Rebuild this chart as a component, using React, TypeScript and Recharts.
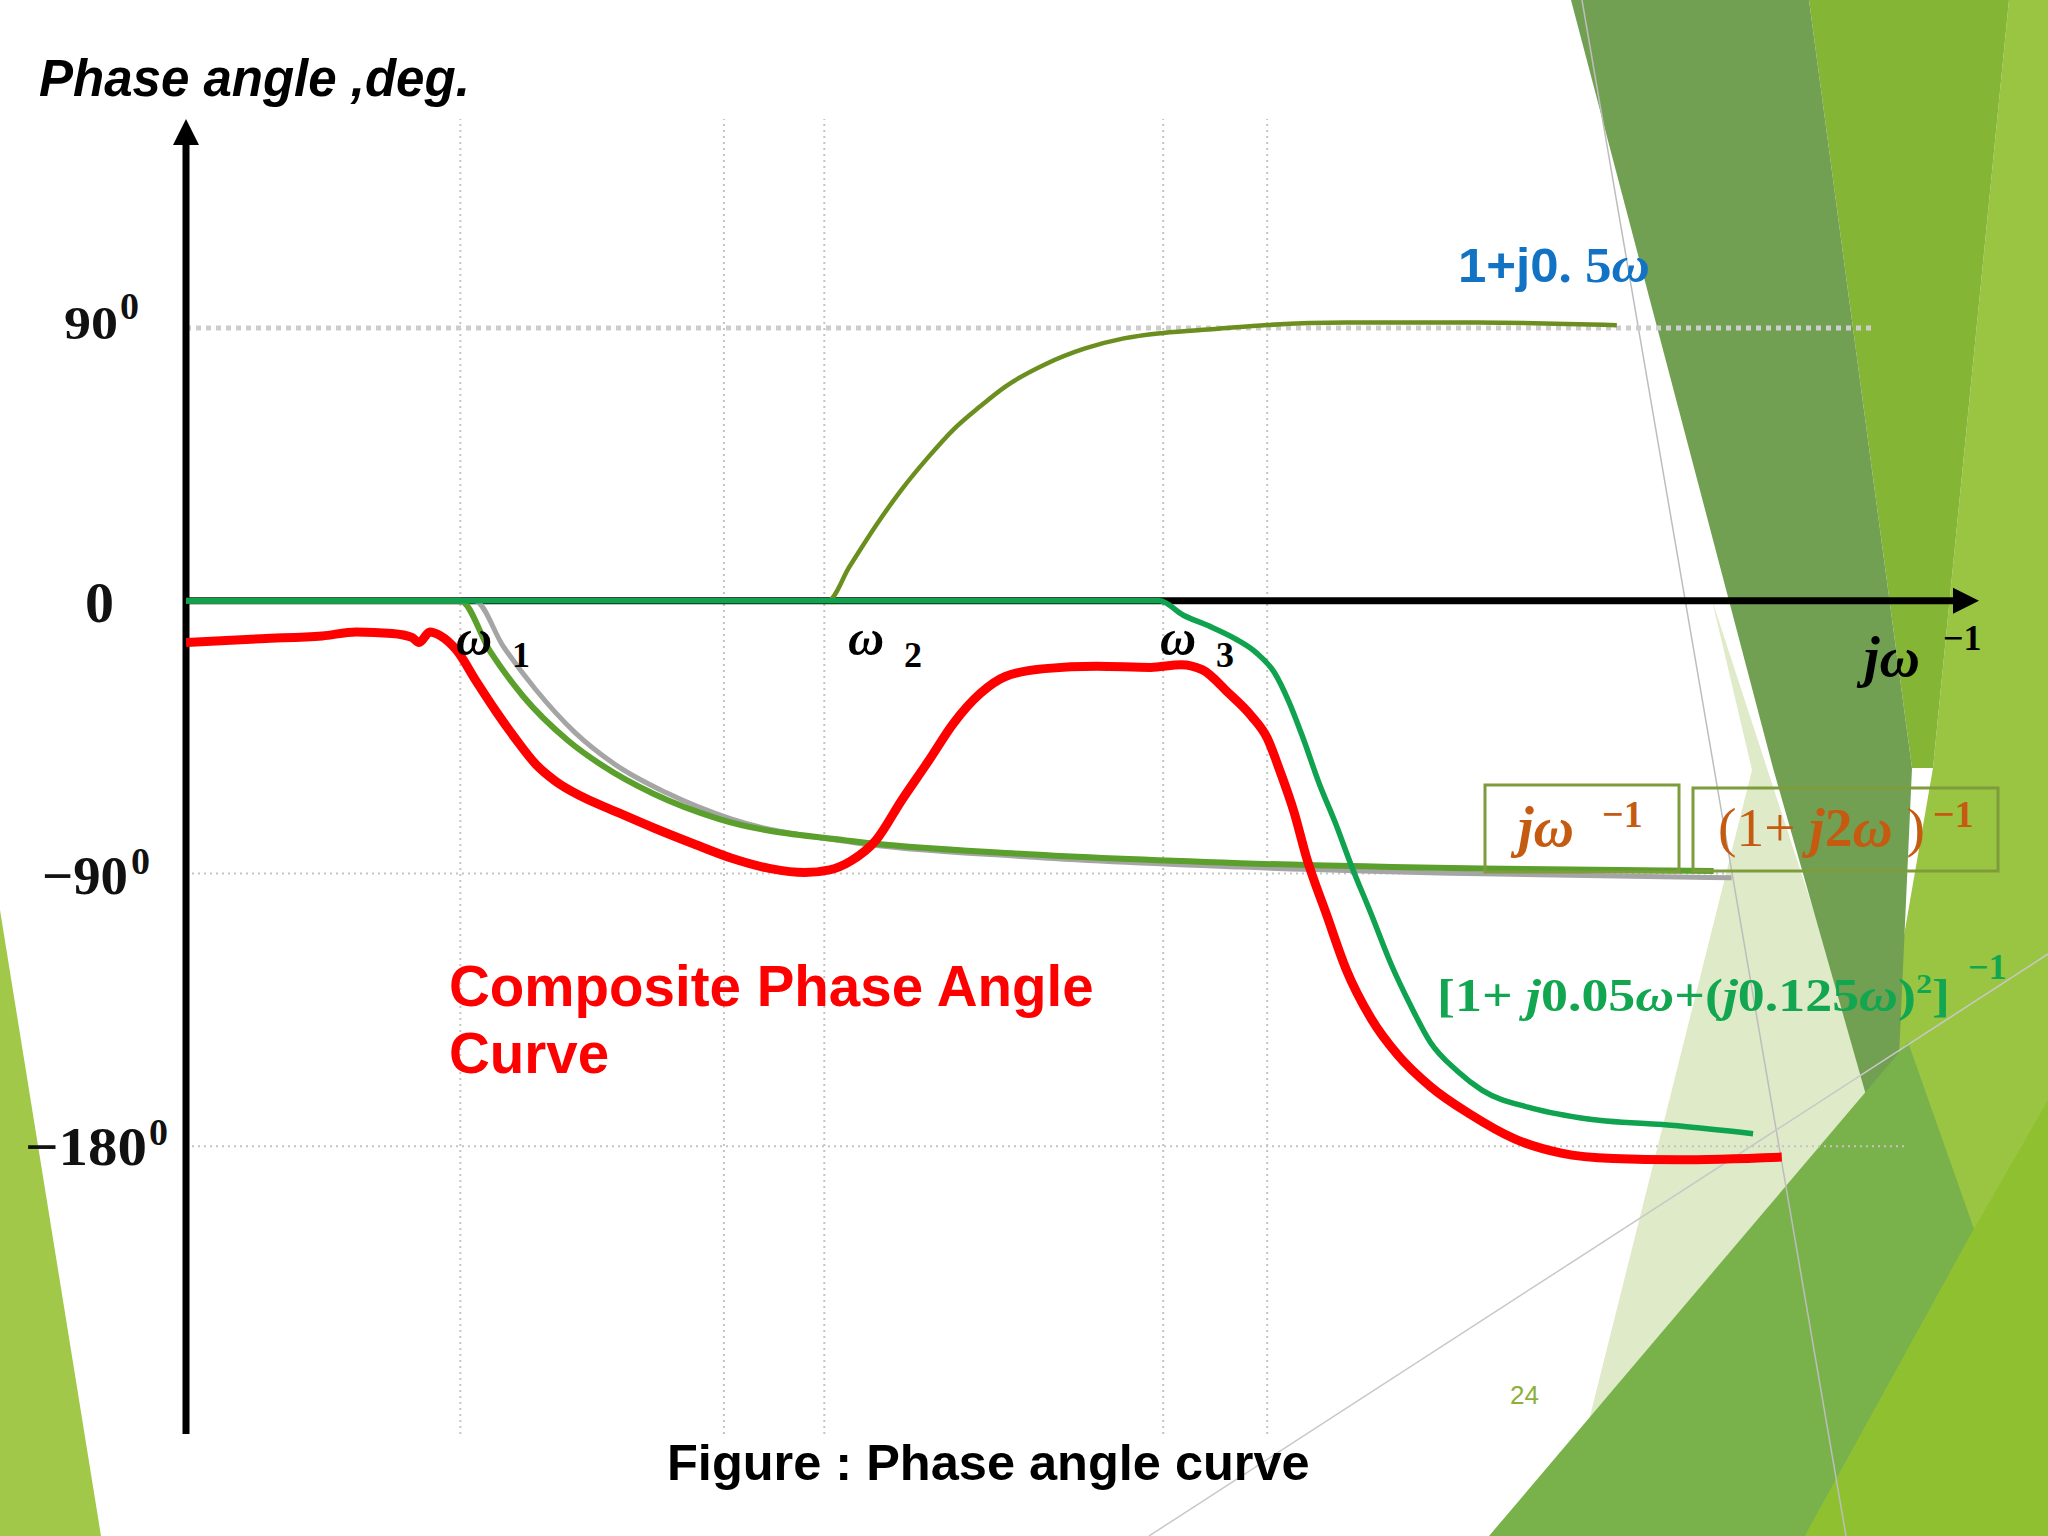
import React from 'react';
import { LineChart, Line, XAxis, YAxis, ReferenceLine } from 'recharts';

// x: position along the frequency axis (0 = phase axis, 100 = arrow tip), y: phase in degrees
const leadPhase = [
  { x: 0, y: 0 }, { x: 35.8, y: 0 }, { x: 37.0, y: 11.2 }, { x: 38.5, y: 25.0 },
  { x: 39.9, y: 36.6 }, { x: 41.4, y: 47.4 }, { x: 42.8, y: 56.5 }, { x: 44.3, y: 64.2 },
  { x: 45.7, y: 70.7 }, { x: 47.9, y: 78.0 }, { x: 50.1, y: 83.2 }, { x: 52.3, y: 86.6 },
  { x: 54.5, y: 88.4 }, { x: 57.4, y: 89.7 }, { x: 60.3, y: 91.0 }, { x: 64.7, y: 91.8 },
  { x: 72.0, y: 91.8 }, { x: 79.8, y: 90.9 },
];

const integratorPhase = [
  { x: 0, y: 0 }, { x: 15.3, y: 0 }, { x: 16.97, y: -16.8 }, { x: 18.8, y: -31.5 },
  { x: 21.3, y: -46.1 }, { x: 23.2, y: -54.3 }, { x: 26.1, y: -63.8 }, { x: 29.7, y: -72.0 },
  { x: 37.1, y: -79.3 }, { x: 46.8, y: -83.6 }, { x: 58.8, y: -86.6 }, { x: 72.3, y: -88.4 },
  { x: 85.2, y: -89.2 },
];

const lagPhase = [
  { x: 0.9, y: 0 }, { x: 16.1, y: 0 }, { x: 17.7, y: -15.1 }, { x: 19.5, y: -29.3 },
  { x: 21.7, y: -43.5 }, { x: 23.9, y: -53.9 }, { x: 26.8, y: -63.4 }, { x: 30.4, y: -72.0 },
  { x: 37.1, y: -79.7 }, { x: 46.8, y: -84.5 }, { x: 58.8, y: -87.9 }, { x: 72.3, y: -90.1 },
  { x: 86.2, y: -91.4 },
];

const quadraticPhase = [
  { x: 0, y: 0 }, { x: 54.3, y: 0 }, { x: 55.6, y: -4.7 }, { x: 57.0, y: -8.2 },
  { x: 58.5, y: -12.5 }, { x: 59.7, y: -17.2 }, { x: 60.7, y: -23.7 }, { x: 61.5, y: -33.2 },
  { x: 62.3, y: -45.3 }, { x: 63.2, y: -60.3 }, { x: 64.1, y: -73.3 }, { x: 65.0, y: -87.5 },
  { x: 66.1, y: -103.4 }, { x: 67.2, y: -119.8 }, { x: 68.3, y: -133.6 }, { x: 69.4, y: -145.7 },
  { x: 70.9, y: -155.2 }, { x: 72.3, y: -161.6 }, { x: 74.9, y: -167.2 }, { x: 77.8, y: -170.7 },
  { x: 83.2, y: -173.3 }, { x: 87.4, y: -175.9 },
];

const compositePhase = [
  { x: 0, y: -13.8 }, { x: 4.2, y: -12.5 }, { x: 7.6, y: -11.6 }, { x: 9.5, y: -10.3 },
  { x: 11.5, y: -10.8 }, { x: 12.6, y: -12.1 }, { x: 13.0, y: -13.8 }, { x: 13.6, y: -10.3 },
  { x: 14.2, y: -11.6 }, { x: 15.1, y: -16.4 }, { x: 16.2, y: -26.7 }, { x: 17.3, y: -36.6 },
  { x: 18.4, y: -45.7 }, { x: 19.5, y: -53.9 }, { x: 20.6, y: -59.5 }, { x: 22.1, y: -64.7 },
  { x: 23.9, y: -69.4 }, { x: 26.1, y: -75.0 }, { x: 28.3, y: -80.2 }, { x: 30.4, y: -84.9 },
  { x: 32.6, y: -88.4 }, { x: 34.5, y: -89.7 }, { x: 35.9, y: -88.8 }, { x: 37.1, y: -85.8 },
  { x: 38.5, y: -78.9 }, { x: 39.9, y: -66.0 }, { x: 41.4, y: -53.0 }, { x: 42.8, y: -40.5 },
  { x: 44.3, y: -30.6 }, { x: 45.7, y: -25.0 }, { x: 47.9, y: -22.4 }, { x: 50.8, y: -21.6 },
  { x: 53.8, y: -22.0 }, { x: 55.5, y: -21.1 }, { x: 56.7, y: -22.8 }, { x: 58.1, y: -30.2 },
  { x: 59.4, y: -37.9 }, { x: 60.3, y: -45.3 }, { x: 61.0, y: -56.0 }, { x: 61.8, y: -69.8 },
  { x: 62.5, y: -84.9 }, { x: 63.6, y: -103.4 }, { x: 64.7, y: -121.6 }, { x: 66.1, y: -137.9 },
  { x: 67.6, y: -150.0 }, { x: 69.4, y: -160.3 }, { x: 71.6, y: -169.4 }, { x: 74.1, y: -177.6 },
  { x: 76.7, y: -182.3 }, { x: 79.6, y: -184.1 }, { x: 83.2, y: -184.5 }, { x: 89.0, y: -183.6 },
];

const yTicks = [90, 0, -90, -180];
const yTickText = ['90', '0', '\u221290', '\u2212180'];
const gridX = [15.3, 30.0, 35.6, 54.5, 60.3];
const gridY = [90, -90, -180];
const gridYEnd = [94.2, 85.8, 96.0];

const serif = "'Liberation Serif', 'Times New Roman', serif";
const sans = "'Liberation Sans', Arial, sans-serif";

// label boxes for the phase ticks (left edge, width, font size, baseline offset, superscript x)
const tickLayout: Record<string, { left: number; w: number; size: number; dy: number; supX?: number }> = {
  '90': { left: 64, w: 54, size: 46, dy: 11, supX: 120 },
  '0': { left: 85, w: 29, size: 58, dy: 21 },
  '-90': { left: 42, w: 86, size: 54, dy: 21, supX: 131 },
  '-180': { left: 25, w: 122, size: 54, dy: 19, supX: 149 },
};

const PhaseTick = (props: any) => {
  const { y, payload } = props;
  const v = payload.value;
  const lay = tickLayout[String(v)];
  if (!lay) return null;
  return (
    <g fontFamily={serif} fontWeight="bold" fill="#111">
      <text x={lay.left} y={y + lay.dy} fontSize={lay.size} textLength={lay.w} lengthAdjust="spacingAndGlyphs">
        {yTickText[yTicks.indexOf(v)]}
      </text>
      {lay.supX !== undefined && (
        <text x={lay.supX} y={y + lay.dy - 20} fontSize={38}>0</text>
      )}
    </g>
  );
};

const ArrowShape = (props: any) => {
  const { x1, y1, x2, y2 } = props;
  const len = Math.hypot(x2 - x1, y2 - y1) || 1;
  const ux = (x2 - x1) / len;
  const uy = (y2 - y1) / len;
  const head = 26;
  const half = 13;
  const bx = x2 - ux * head;
  const by = y2 - uy * head;
  return (
    <g>
      <line x1={x1} y1={y1} x2={bx} y2={by} stroke="#000" strokeWidth={7} />
      <polygon
        points={`${x2},${y2} ${bx - uy * half},${by + ux * half} ${bx + uy * half},${by - ux * half}`}
        fill="#000"
      />
    </g>
  );
};

const Background = () => (
  <svg width={2048} height={1536} style={{ position: 'absolute', left: 0, top: 0 }}>
    <polygon points="2009,0 2048,0 2048,1536 1800,1536 1933,768" fill="#9ac542" />
    <polygon points="1809,0 2009,0 1933,768 1912,768" fill="#84b535" />
    <polygon points="1712,600 1905,1190 1700,1536 1560,1536 1752,770" fill="#dfeac8" />
    <polygon points="1571,0 1809,0 1912,768 1893,1190 1773,768" fill="#72a052" />
    <polygon points="1489,1536 1908,1042 1974,1229 1805,1536" fill="#79b24b" />
    <polygon points="1805,1536 1974,1229 2048,1100 2048,1536" fill="#8fc02f" />
    <polygon points="0,910 101,1536 0,1536" fill="#a2c84a" />
    <line x1={1582} y1={0} x2={1846} y2={1536} stroke="#bdbdbd" strokeWidth={1.5} />
    <line x1={1149} y1={1536} x2={2048} y2={954} stroke="#c8c8c8" strokeWidth={1.5} />
  </svg>
);

const Labels = () => (
  <svg width={2048} height={1536} style={{ position: 'absolute', left: 0, top: 0, pointerEvents: 'none' }}>
    <text x={39} y={96} fontFamily={sans} fontWeight="bold" fontStyle="italic" fontSize={51} fill="#000">
      Phase angle ,deg.
    </text>

    {[
      { n: '1', x: 456 },
      { n: '2', x: 848 },
      { n: '3', x: 1160 },
    ].map((o) => (
      <text key={o.n} x={o.x} y={655} fontFamily={serif} fontWeight="bold" fontSize={50} fill="#000">
        <tspan fontStyle="italic">ω</tspan>
        <tspan x={o.x + 56} dy={12} fontSize={36}>{o.n}</tspan>
      </text>
    ))}

    <text x={1864} y={676} fontFamily={serif} fontWeight="bold" fontStyle="italic" fontSize={56} fill="#000">jω</text>
    <text x={1943} y={650} fontFamily={serif} fontWeight="bold" fontSize={36} fill="#000">−1</text>

    <text x={1458} y={282} textLength={192} lengthAdjust="spacingAndGlyphs" fill="#1273c4" fontWeight="bold">
      <tspan fontFamily={sans} fontSize={48}>1+j0</tspan>
      <tspan fontFamily={serif} fontSize={50}>. 5</tspan>
      <tspan fontFamily={serif} fontStyle="italic" fontSize={50}>ω</tspan>
    </text>

    <rect x={1485} y={785} width={194} height={87} fill="none" stroke="#7f9c3c" strokeWidth={3} />
    <rect x={1693} y={788} width={305} height={83} fill="none" stroke="#7f9c3c" strokeWidth={3} />
    <text x={1518} y={846} fontFamily={serif} fontWeight="bold" fontStyle="italic" fontSize={56} fill="#c55a11">jω</text>
    <text x={1602} y={827} fontFamily={serif} fontWeight="bold" fontSize={38} fill="#c55a11">−1</text>
    <text x={1718} y={846} textLength={207} lengthAdjust="spacingAndGlyphs" fontFamily={serif} fontSize={54} fill="#c55a11">
      <tspan>(1+ </tspan>
      <tspan fontStyle="italic" fontWeight="bold">j</tspan>
      <tspan fontWeight="bold">2</tspan>
      <tspan fontStyle="italic" fontWeight="bold">ω</tspan>
      <tspan> )</tspan>
    </text>
    <text x={1933} y={827} fontFamily={serif} fontWeight="bold" fontSize={38} fill="#c55a11">−1</text>

    <text x={1437} y={1011} textLength={513} lengthAdjust="spacingAndGlyphs" fontFamily={serif} fontWeight="bold" fontSize={47} fill="#12a650">
      <tspan>[1+ </tspan>
      <tspan fontStyle="italic">j</tspan>
      <tspan>0.05</tspan>
      <tspan fontStyle="italic">ω</tspan>
      <tspan>+(</tspan>
      <tspan fontStyle="italic">j</tspan>
      <tspan>0.125</tspan>
      <tspan fontStyle="italic">ω</tspan>
      <tspan>)</tspan>
      <tspan dy={-18} fontSize={28}>2</tspan>
      <tspan dy={18}>]</tspan>
    </text>
    <text x={1968} y={979} fontFamily={serif} fontWeight="bold" fontSize={36} fill="#12a650">−1</text>

    <text x={449} y={1006} fontFamily={sans} fontWeight="bold" fontSize={56.5} fill="#ff0000">Composite Phase Angle</text>
    <text x={449} y={1073} fontFamily={sans} fontWeight="bold" fontSize={56.5} fill="#ff0000">Curve</text>

    <text x={1510} y={1404} fontFamily={sans} fontSize={26} fill="#8db03a">24</text>

    <text x={667} y={1480} fontFamily={sans} fontWeight="bold" fontSize={50.5} fill="#000">Figure : Phase angle curve</text>
  </svg>
);

export default function App() {
  return (
    <div style={{ position: 'fixed', left: 0, top: 0, width: 2048, height: 1536, background: '#fff', overflow: 'hidden' }}>
      <Background />
      <div style={{ position: 'absolute', left: 0, top: 0 }}>
        <LineChart width={2048} height={1536} margin={{ top: 119, right: 69, bottom: 102, left: 0 }}>
          <XAxis type="number" dataKey="x" domain={[0, 100]} hide allowDataOverflow />
          <YAxis
            type="number"
            domain={[-275, 159]}
            ticks={yTicks}
            interval={0}
            width={186}
            axisLine={false}
            tickLine={false}
            tick={PhaseTick}
            allowDataOverflow
          />
          {gridX.map((gx) => (
            <ReferenceLine key={`gx-${gx}`} x={gx} stroke="#c4c4c4" strokeWidth={2} strokeDasharray="2 4" />
          ))}
          {gridY.map((gy, i) => (
            <ReferenceLine
              key={`gy-${gy}`}
              segment={[{ x: 0, y: gy }, { x: gridYEnd[i], y: gy }]}
              stroke={gy === 90 ? '#cdcdcd' : '#c4c4c4'}
              strokeWidth={gy === 90 ? 5 : 2}
              strokeDasharray={gy === 90 ? '5 5' : '2 4'}
              ifOverflow="visible"
            />
          ))}
          <ReferenceLine segment={[{ x: 0, y: 0 }, { x: 100, y: 0 }]} shape={ArrowShape} ifOverflow="visible" />
          <ReferenceLine segment={[{ x: 0, y: -275 }, { x: 0, y: 159 }]} shape={ArrowShape} ifOverflow="visible" />

          <Line data={lagPhase} dataKey="y" type="monotone" stroke="#a5a5a5" strokeWidth={5} dot={false} activeDot={false} isAnimationActive={false} />
          <Line data={integratorPhase} dataKey="y" type="monotone" stroke="#5b9f2c" strokeWidth={6} dot={false} activeDot={false} isAnimationActive={false} />
          <Line data={leadPhase} dataKey="y" type="monotone" stroke="#6a8f1f" strokeWidth={4.5} dot={false} activeDot={false} isAnimationActive={false} />
          <Line data={quadraticPhase} dataKey="y" type="monotone" stroke="#0fa24f" strokeWidth={5.5} dot={false} activeDot={false} isAnimationActive={false} />
          <Line data={compositePhase} dataKey="y" type="monotone" stroke="#ff0000" strokeWidth={9} dot={false} activeDot={false} isAnimationActive={false} />
        </LineChart>
      </div>
      <Labels />
    </div>
  );
}
